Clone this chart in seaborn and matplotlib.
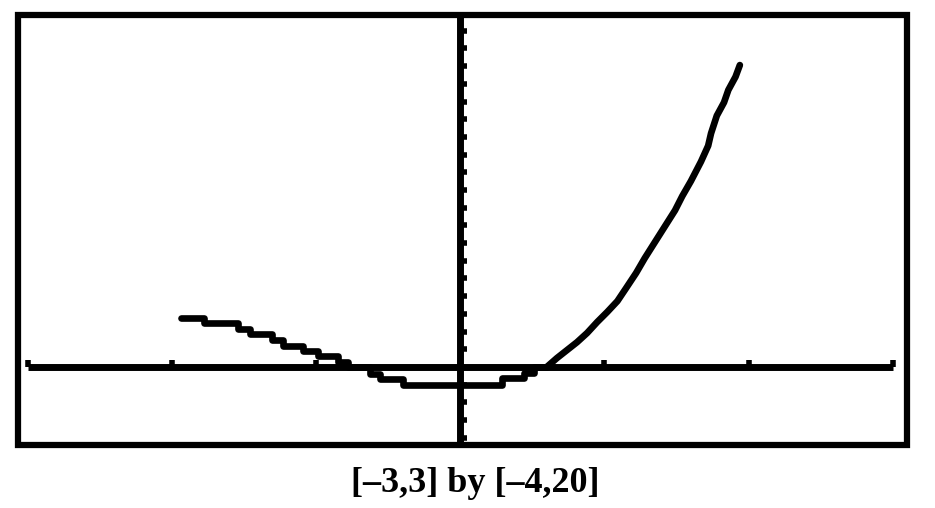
import numpy as np
import pandas as pd
import matplotlib.pyplot as plt
import seaborn as sns
from matplotlib.patches import Rectangle

# Curve, window [-3,3] by [-4,20]
# left part drawn as pixel steps (start x of each step, level)
step_x = [-1.94, -1.78, -1.54, -1.46, -1.31, -1.23, -1.09, -0.99, -0.85,
          -0.78, -0.63, -0.56, -0.40, 0.29, 0.44, 0.51, 0.60]
step_y = [2.77, 2.49, 2.15, 1.86, 1.53, 1.19, 0.90, 0.62, 0.28,
          0.0, -0.40, -0.68, -1.02, -0.62, -0.34, 0.0, 0.0]

# right part, rising branch
rise_x = [0.60, 0.67, 0.74, 0.81, 0.88, 0.95, 1.02, 1.09, 1.15, 1.22, 1.28, 1.35,
          1.42, 1.49, 1.54, 1.60, 1.67, 1.72, 1.74, 1.78, 1.83, 1.86, 1.91, 1.94]
rise_y = [0.0, 0.50, 0.95, 1.40, 1.92, 2.54, 3.11, 3.72, 4.45, 5.31, 6.15, 7.05,
          7.95, 8.85, 9.65, 10.50, 11.60, 12.50, 13.20, 14.20, 14.95, 15.65, 16.40, 17.06]

x_ticks = [-3, -2, -1, 1, 2, 3]
y_ticks = [v for v in range(-4, 20) if v != 0]
caption = '[\u20133,3] by [\u20134,20]'

sns.set_style('white')

fig = plt.figure(figsize=(9.35, 5.08), dpi=100)
ax = fig.add_axes([18 / 935, 63 / 508, 889 / 935, 430 / 508])

df_step = pd.DataFrame({'x': step_x, 'y': step_y})
df_rise = pd.DataFrame({'x': rise_x, 'y': rise_y})

sns.lineplot(data=df_step, x='x', y='y', ax=ax, color='black', linewidth=4.8,
             drawstyle='steps-post', estimator=None, sort=False,
             solid_capstyle='round', zorder=3)
sns.lineplot(data=df_rise, x='x', y='y', ax=ax, color='black', linewidth=4.8,
             estimator=None, sort=False, solid_capstyle='round', zorder=3)

ax.set_xlim(-3.07, 3.10)
ax.set_ylim(-4.41, 19.89)

# axes drawn through the origin like on the calculator
ax.spines['left'].set_position(('data', 0))
ax.spines['bottom'].set_position(('data', 0))
ax.spines['bottom'].set_bounds(-3, 3)
ax.spines['top'].set_visible(False)
ax.spines['right'].set_visible(False)
for s in ['left', 'bottom']:
    ax.spines[s].set_linewidth(5)
    ax.spines[s].set_color('black')
    ax.spines[s].set_capstyle('butt')

ax.set_xticks(x_ticks)
ax.set_yticks(y_ticks)
ax.tick_params(axis='both', direction='in', length=5, width=4,
               color='black', bottom=True, left=True,
               labelbottom=False, labelleft=False)
ax.set_xlabel('')
ax.set_ylabel('')

# screen frame
ax.add_patch(Rectangle((0, 0), 1, 1, transform=ax.transAxes, fill=False,
                       edgecolor='black', linewidth=4.5, clip_on=False, zorder=5))

fig.text(475 / 935, 1 - 483 / 508, caption, ha='center', va='center',
         fontsize=26, family='Liberation Serif', fontweight='bold', color='black')

fig.savefig('out.png', dpi=100)
